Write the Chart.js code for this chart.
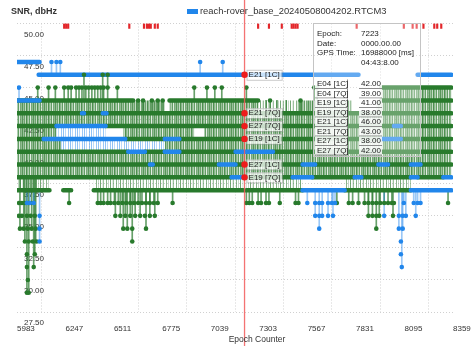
<!DOCTYPE html>
<html>
<head>
<meta charset="utf-8">
<script src="https://cdn.jsdelivr.net/npm/chart.js@4.4.1/dist/chart.umd.min.js"></script>
<style>
  html, body { margin: 0; padding: 0; background: #fff; }
  #c { display: block; }
</style>
</head>
<body>
<canvas id="c" width="474" height="346"></canvas>
<script>
// axis ticks
const xTicks = [5983, 6247, 6511, 6775, 7039, 7303, 7567, 7831, 8095, 8359];
const yTicks = [27.5, 30, 32.5, 35, 37.5, 40, 42.5, 45, 47.5, 50];

const fileName = 'reach-rover_base_20240508004202.RTCM3';

// dwell runs  [snr, fromEpoch, toEpoch]
const greenRuns = [
  [45, 7968, 8350],
  [44, 5983, 6616], [44, 6814, 7297], [44, 7968, 8350],
  [43, 5983, 8350],
  [42, 5983, 6198], [42, 6466, 8350],
  [41, 5983, 6128], [41, 6573, 6788], [41, 6868, 7968], [41, 8075, 8350],
  [40, 5983, 6589], [40, 6680, 6788], [40, 6868, 7174], [40, 7378, 8350],
  [39, 5983, 6707], [39, 6723, 7083], [39, 7174, 7539], [39, 7608, 7952], [39, 8005, 8129], [39, 8182, 8350],
  [38, 5983, 7152], [38, 7227, 7485], [38, 7592, 7823], [38, 7860, 8129], [38, 8166, 8306],
  [37, 5983, 6160], [37, 6235, 6278], [37, 6401, 7217], [37, 7233, 7539], [37, 7769, 8129]
];
const blueRuns = [
  [47, 5983, 6106],
  [46, 6101, 7844], [46, 8166, 8350],
  [44, 5983, 6106],
  [43, 6337, 6348], [43, 6450, 6471],
  [42, 6198, 6466], [42, 8037, 8075],
  [41, 6128, 6573], [41, 6788, 6868], [41, 7968, 8075],
  [40, 6589, 6680], [40, 6788, 6868], [40, 7174, 7378],
  [39, 6707, 6723], [39, 7083, 7174], [39, 7539, 7608], [39, 7952, 8005], [39, 8129, 8182],
  [38, 7152, 7227], [38, 7485, 7592], [38, 7823, 7860], [38, 8129, 8166], [38, 8306, 8350],
  [37, 7539, 7769], [37, 8129, 8350]
];

// areas full of fast jumps between neighbouring values  [fromEpoch, toEpoch, lowSnr, highSnr]
const denseBands = [
  [7968, 8350, 44, 45],
  [5983, 6788, 43, 44], [6814, 7297, 43, 44], [7512, 7807, 43, 44], [7941, 8350, 43, 44],
  [5983, 8350, 42, 43],
  [5983, 6198, 41, 42], [6562, 6949, 41, 42], [7002, 8350, 41, 42],
  [5983, 6224, 40, 41], [6788, 8350, 40, 41],
  [5983, 8350, 39, 40],
  [5983, 8350, 38, 39]
];
const sparseBands = [
  [5983, 6160, 37, 38], [6401, 7217, 37, 38], [7233, 7539, 37, 38], [7769, 8129, 37, 38],
  [7297, 7512, 43, 44]
];
const blueBands = [
  [6198, 6466, 41, 42], [6224, 6788, 40, 41]
];

// single samples  [snr, epochs]
const greenDots = [
  [46, [6348, 6450, 6477]],
  [45, [6096, 6155, 6192, 6240, 6262, 6278, 6305, 6321, 6337, 6358, 6374, 6391, 6407, 6423, 6439, 6455, 6477, 6530, 6949, 7018, 7061, 7099, 7233, 7603, 7619]],
  [44, [6643, 6670, 6718, 6750, 6777, 7362, 7528]],
  [36, [5994, 6010, 6026, 6047, 6063, 6267, 6423, 6439, 6455, 6477, 6493, 6514, 6535, 6557, 6578, 6600, 6621, 6643, 6664, 6686, 6707, 6729, 6750, 6831, 7233, 7249, 7265, 7297, 7313, 7340, 7356, 7415, 7501, 7517, 7726, 7791, 7812, 7844, 7877, 7898, 7920, 7941, 7962, 7984, 8005, 8026, 8037, 8332]],
  [35, [5994, 6010, 6037, 6058, 6080, 6519, 6546, 6573, 6600, 6627, 6654, 6680, 6707, 6734, 7898, 7920, 7941, 7957, 8032]],
  [34, [5999, 6020, 6042, 6063, 6085, 6562, 6584, 6611, 6686, 7941]],
  [33, [6026, 6047, 6069, 6090, 6611]],
  [32, [6037, 6080]],
  [31, [6037, 6074]],
  [30, [6042]],
  [29, [6037, 6047]]
];
const blueDots = [
  [47, [6171, 6198, 6219, 6981, 7104]],
  [45, [5994]],
  [36, [6037, 6053, 6074, 7565, 7608, 7630, 7646, 7678, 7699, 7716, 8091, 8145, 8166, 8182]],
  [35, [6106, 7608, 7630, 7646, 7678, 7705, 7984, 8064, 8085, 8102, 8156]],
  [34, [6106, 7630, 8064, 8085]],
  [33, [6106, 8075]],
  [32, [8075]],
  [31, [8080]]
];

// vertical jumps  [lowSnr, highSnr, epochs]
const greenStems = [
  [44, 46, [6348, 6450, 6477]],
  [44, 45, [6096, 6155, 6192, 6240, 6262, 6278, 6305, 6321, 6337, 6358, 6374, 6391, 6407, 6423, 6439, 6455, 6530, 6949, 7018, 7061, 7099, 7233, 7603, 7619]],
  [43, 44, [6643, 6670, 6718, 6750, 6777, 7340, 7362, 7400, 7450, 7528]],
  [36, 37, [6267, 6423, 6439, 6455, 6477, 6493, 6514, 6535, 6557, 6578, 6600, 6621, 6643, 6664, 6686, 6707, 6729, 6750, 6831, 7233, 7249, 7265, 7297, 7313, 7340, 7356, 7415, 7501, 7517, 7726, 7791, 7812, 7844, 7877, 7898, 7920, 7962, 7984, 8005, 8026, 8332]],
  [35, 37, [6519, 6546, 6573, 6600, 6627, 6654, 6707, 6734, 7898, 7920, 7957, 8032]],
  [34, 37, [6562, 6584, 6686, 7941]],
  [33, 37, [6611]],
  [34, 38, [5999, 6020, 6063]],
  [33, 38, [6026, 6085]],
  [29, 38, [6037, 6047]],
  [31, 38, [6074]],
  [32, 38, [6080]]
];
const blueStems = [
  [46, 47, [6171, 6198, 6219, 6981, 7104]],
  [44, 45, [5994]],
  [33, 37, [6106]],
  [31, 37, [8080]],
  [34, 37, [7630, 8064, 8085]],
  [35, 37, [7608, 7646, 7678, 7705, 7984, 8102, 8156]],
  [36, 37, [6037, 6053, 6074, 7565, 7699, 7716, 8091, 8145, 8166, 8182]]
];

// cycle slip marks along the top
const slipEpochs = [6240, 6251, 6262, 6595, 6675, 6691, 6702, 6712, 6734, 6750, 7297, 7356, 7426, 7480, 7490, 7501, 7512, 7834, 8091, 8139, 8161, 8198, 8257, 8273, 8295];

// cursor
const hoverEpoch = 7223;
const hoverSignals = ['E21 [1C]', 'E21 [7Q]', 'E27 [7Q]', 'E19 [1C]', 'E27 [1C]', 'E19 [7Q]'];
const hoverValues = [46, 43, 42, 41, 39, 38];
const tipHeader = [['Epoch:', '7223'], ['Date:', '0000.00.00'], ['GPS Time:', '16988000 [ms]'], ['', '04:43:8.00']];
const tipSignals = ['E04 [1C]', 'E04 [7Q]', 'E19 [1C]', 'E19 [7Q]', 'E21 [1C]', 'E21 [7Q]', 'E27 [1C]', 'E27 [7Q]'];
const tipValues = [42, 39, 41, 38, 46, 43, 38, 42];

const FONT = "'Liberation Sans', Arial, sans-serif";
const GREEN = '#287a2c';
const BLUE = '#2186eb';

const ctx = document.getElementById('c').getContext('2d');

function stripes(alphas, rgb) {
  const s = document.createElement('canvas');
  s.width = alphas.length; s.height = 1;
  const g = s.getContext('2d');
  alphas.forEach((a, i) => { g.fillStyle = 'rgba(' + rgb + ',' + a + ')'; g.fillRect(i, 0, 1, 1); });
  return ctx.createPattern(s, 'repeat');
}
const denseFill = stripes([0.85, 0.5, 0.75, 0.3, 0.9, 0.6, 0.4, 0.8, 0.15, 0.7, 0.55], '58,132,60');
const sparseFill = stripes([0.7, 0, 0.15, 0.5, 0, 0, 0.6, 0, 0.3, 0], '58,132,60');
const blueFill = stripes([0.5, 0, 0.3, 0, 0, 0.45, 0], '33,134,235');

function band(b, fillStyle, order) {
  return {
    data: [{x: b[0], y: b[3]}, {x: b[1], y: b[3]}],
    fill: {value: b[2]}, backgroundColor: fillStyle,
    borderColor: 'rgba(0,0,0,0)', borderWidth: 1, pointRadius: 0, order: order
  };
}
function runs(list, color, order) {
  const pts = [];
  list.forEach(([v, a, b]) => pts.push({x: a, y: v}, {x: b, y: v}, {x: b, y: null}));
  return { data: pts, borderColor: color, borderWidth: 4.5, borderCapStyle: 'round', pointRadius: 0, spanGaps: false, order: order };
}
function dots(list, color, order) {
  const pts = [];
  list.forEach(([v, es]) => es.forEach(e => pts.push({x: e, y: v})));
  return { data: pts, showLine: false, pointRadius: 2.3, pointBackgroundColor: color, pointBorderColor: color, pointBorderWidth: 0, order: order };
}
function stems(list, color, order) {
  const pts = [];
  list.forEach(([lo, hi, es]) => es.forEach(e => pts.push({x: e, y: [lo, hi]})));
  return { type: 'bar', data: pts, backgroundColor: color, barThickness: 1, grouped: false, borderWidth: 0, order: order };
}

const datasets = [];
denseBands.forEach(b => datasets.push(band(b, denseFill, 30)));
sparseBands.forEach(b => datasets.push(band(b, sparseFill, 30)));
blueBands.forEach(b => datasets.push(band(b, blueFill, 29)));
datasets.push(stems(greenStems, 'rgba(52,128,56,0.75)', 20));
datasets.push(stems(blueStems, 'rgba(33,134,235,0.45)', 19));
datasets.push(runs(greenRuns, GREEN, 12));
datasets.push(runs(blueRuns, BLUE, 11));
datasets.push(dots(greenDots, GREEN, 10));
datasets.push(dots(blueDots, BLUE, 9));
datasets.push({
  type: 'bar', data: slipEpochs.map(e => ({x: e, y: [49.62, 50]})),
  backgroundColor: '#e3262a', barThickness: 1.5, grouped: false, borderWidth: 0, order: 5
});

const overlay = {
  id: 'overlay',
  afterDatasetsDraw(chart) {
    const g = chart.ctx;
    const x = chart.scales.x, y = chart.scales.y;
    const px = x.getPixelForValue(hoverEpoch);
    g.save();

    // cursor line
    g.strokeStyle = 'rgba(242,90,90,0.85)';
    g.lineWidth = 1.3;
    g.beginPath(); g.moveTo(px, 0); g.lineTo(px, chart.height); g.stroke();

    // hovered points with their names
    g.font = '8px ' + FONT;
    g.textBaseline = 'middle';
    hoverSignals.forEach((s, i) => {
      const py = y.getPixelForValue(hoverValues[i]);
      const w = g.measureText(s).width + 4;
      g.fillStyle = 'rgba(255,255,255,0.75)';
      g.fillRect(px + 2, py - 5, w, 10);
      g.strokeStyle = 'rgba(150,150,150,0.5)';
      g.lineWidth = 1;
      g.strokeRect(px + 2.5, py - 4.5, w, 10);
      g.fillStyle = '#ee1c1c';
      g.beginPath(); g.arc(px, py, 3.2, 0, Math.PI * 2); g.fill();
      g.fillStyle = '#222';
      g.fillText(s, px + 4, py);
    });

    // info box
    const bx = 313, by = 23;
    g.fillStyle = 'rgba(255,255,255,0.3)';
    g.fillRect(bx, by, 107, 133);
    g.strokeStyle = '#c4c4c4';
    g.strokeRect(bx + 0.5, by + 0.5, 107, 133);
    g.fillStyle = '#222';
    tipHeader.forEach(([k, v], i) => {
      const ty = 34 + i * 9.5;
      g.fillText(k, bx + 4, ty);
      g.fillText(v, bx + 48, ty);
    });
    tipSignals.forEach((s, i) => {
      const ty = 84 + i * 9.5;
      g.fillStyle = 'rgba(255,255,255,0.85)';
      g.fillRect(bx + 2, ty - 4.5, 32, 9);
      g.fillRect(bx + 46, ty - 4.5, 23, 9);
      g.strokeStyle = '#8a8a8a';
      g.beginPath();
      g.moveTo(bx + 2, ty + 4.5); g.lineTo(bx + 34.5, ty + 4.5); g.lineTo(bx + 34.5, ty - 4.5);
      g.moveTo(bx + 46, ty + 4.5); g.lineTo(bx + 69, ty + 4.5);
      g.stroke();
      g.fillStyle = '#222';
      g.fillText(s, bx + 4, ty);
      g.fillText(tipValues[i].toFixed(2), bx + 48, ty);
    });

    // title, legend, axis name
    g.fillStyle = '#333';
    g.font = 'bold 9px ' + FONT;
    g.fillText('SNR, dbHz', 11, 12);
    g.fillStyle = BLUE;
    g.fillRect(187, 9, 11, 5);
    g.fillStyle = '#333';
    g.font = '9.4px ' + FONT;
    g.fillText(fileName, 200, 11.5);
    g.font = '8.5px ' + FONT;
    g.textAlign = 'center';
    g.fillText('Epoch Counter', 257, 340);
    g.restore();
  }
};

new Chart(ctx, {
  type: 'line',
  data: { datasets: datasets },
  options: {
    responsive: false,
    animation: false,
    devicePixelRatio: 1,
    layout: { padding: { top: 23.5, left: 3, right: 21, bottom: 0 } },
    plugins: { legend: { display: false }, tooltip: { enabled: false } },
    elements: { line: { tension: 0 } },
    scales: {
      x: {
        type: 'linear', min: 5983, max: 8359, offset: false,
        afterBuildTicks: s => { s.ticks = xTicks.map(v => ({value: v})); },
        afterFit: s => { s.height = 34; s.paddingLeft = 0; s.paddingRight = 0; },
        ticks: { align: 'start', padding: 12, autoSkip: false, maxRotation: 0, color: '#333', font: { family: FONT, size: 8 }, callback: v => String(v) },
        grid: { color: '#d0d0d0', drawTicks: false },
        border: { display: false, dash: [1, 2] }
      },
      y: {
        min: 27.5, max: 50,
        afterBuildTicks: s => { s.ticks = yTicks.map(v => ({value: v})); },
        ticks: { mirror: true, padding: 7, labelOffset: 11, color: '#333', font: { family: FONT, size: 8 }, callback: v => v.toFixed(2) },
        grid: { color: '#d0d0d0', drawTicks: false },
        border: { display: false, dash: [1, 2] }
      }
    }
  },
  plugins: [overlay]
});
</script>
</body>
</html>
